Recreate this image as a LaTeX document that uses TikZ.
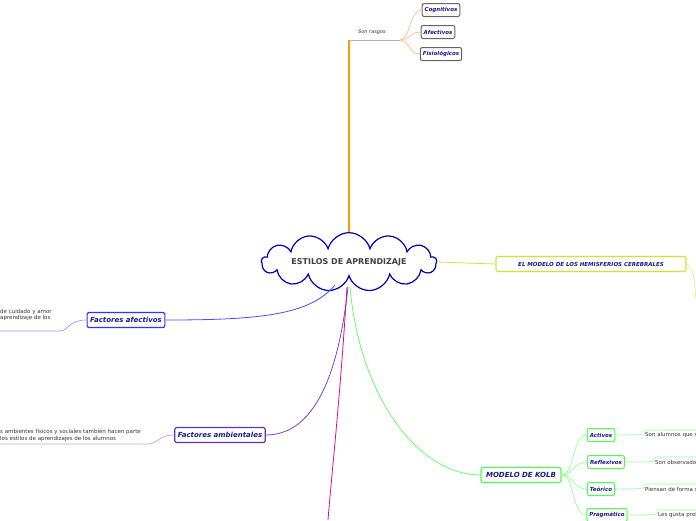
\documentclass[tikz,border=0pt]{standalone}
\usepackage{fontspec}
\setmainfont{DejaVu Sans}
\usetikzlibrary{shapes.symbols}
\definecolor{tblue}{HTML}{1A1A8C}
\definecolor{vio}{HTML}{7B3FE4}
\definecolor{yg}{HTML}{C8E632}
\begin{document}
\begin{tikzpicture}[x=1pt,y=-1pt,
 box/.style={draw=#1,line width=1.2pt,rounded corners=2pt,fill=white,font=\bfseries\itshape\fontsize{7}{8}\selectfont,text=tblue,inner sep=3pt,minimum height=15pt},
 sbox/.style={draw=#1,line width=1pt,rounded corners=2pt,fill=white,font=\bfseries\itshape\fontsize{5.5}{6}\selectfont,text=tblue,inner sep=2.5pt,minimum height=13pt},
 small/.style={font=\fontsize{5.5}{6.5}\selectfont,text=black!80,inner sep=0pt,align=left}]
\useasboundingbox (0,0) rectangle (696,520);
% orange
\node[font=\itshape\fontsize{5}{6}\selectfont,text=black!80] (sr) at (372,32) {Son rasgos};
\coordinate (oj) at (349,40); \coordinate (ok) at (400,40);
\node[sbox=black!60] (cog) at (441,10) {Cognitivos};
\node[sbox=black!60] (afe) at (438,32) {Afectivos};
\node[sbox=black!60] (fis) at (441,54) {Fisiológicos};
\draw[orange!80!yellow,line width=1.2pt] (349,245) -- (oj);
\draw[black!30,line width=0.8pt] (oj) -- (ok);
\foreach \n in {cog,afe,fis}\draw[orange!50,line width=0.7pt] (ok) .. controls (410,40) and ([xshift=-12pt]\n.west) .. (\n.west);
% cloud
\node[cloud,cloud puffs=13,aspect=5.5,draw=blue!70!black,line width=1.2pt,fill=white,minimum width=175pt,minimum height=28pt,inner sep=0pt,font=\bfseries\fontsize{8}{9}\selectfont,text=black!75] (c) at (349,262) {ESTILOS DE APRENDIZAJE};
% hemisferios
\node[box=yg,font=\bfseries\itshape\fontsize{5.5}{6}\selectfont,minimum width=190pt] (hem) at (591,264) {EL MODELO DE LOS HEMISFERIOS CEREBRALES};
\coordinate (hemE) at (696,300);
\draw[yg,line width=0.8pt] (c.east) -- (hem.west);
\draw[yg!60,line width=0.7pt] (hem.east) .. controls (695,270) and (694,280) .. (hemE);
% afectivos
\node[box=blue!80] (fa) at (126,320) {Factores afectivos};
\draw[blue!70,line width=0.8pt] (335,285) .. controls (310,315) and (260,320) .. (fa.east);
\coordinate (fa1) at (60,331); \coordinate (fa0) at (0,331);
\draw[blue!40,line width=0.7pt] (fa.west) .. controls (68,320) and (68,331) .. (fa1) -- (fa0);
\node[small,anchor=north west] (fat) at (0,309) {de cuidado y amor\\ aprendizaje de los};
% ambientales
\node[box=vio!80!black] (famb) at (220,435) {Factores ambientales};
\draw[vio,line width=0.8pt] (348,287) .. controls (340,360) and (320,435) .. (famb.east);
\coordinate (fb1) at (148,444); \coordinate (fb0) at (0,444);
\draw[vio!50,line width=0.7pt] (famb.west) .. controls (158,435) and (158,444) .. (fb1) -- (fb0);
\node[small,anchor=north west] (fbt) at (0,429) {s ambientes físicos y sociales también hacen parte\\ los estilos de aprendizajes de los alumnos};
% magenta
\coordinate (mg) at (328,520);
\draw[magenta!90!violet,line width=0.8pt] (347,287) .. controls (340,400) and (332,470) .. (mg);
% kolb
\node[box=green!70,minimum width=80pt] (kolb) at (521,475) {MODELO DE KOLB};
\draw[green!60,line width=0.8pt] (350,287) .. controls (360,400) and (420,475) .. (kolb.west);
\node[sbox=green!70] (k1) at (601,435) {Activos};
\node[sbox=green!70] (k2) at (606,462) {Reflexivos};
\node[sbox=green!70] (k3) at (601,489) {Teórico};
\node[sbox=green!70] (k4) at (607,515) {Pragmático};
\node[small,anchor=west] (t1) at (645,435) {Son alumnos que s};
\node[small,anchor=west] (t2) at (655,462) {Son observado};
\node[small,anchor=west] (t3) at (645,489) {Piensan de forma s};
\node[small,anchor=west] (t4) at (658,515) {Les gusta prol};
\foreach \k/\t in {k1/t1,k2/t2,k3/t3,k4/t4}{
 \draw[green!40,line width=0.7pt] (kolb.east) .. controls (575,475) and ([xshift=-15pt]\k.west) .. (\k.west);
 \draw[green!40,line width=0.7pt] (\k.east) .. controls (\k.east-|\t.west) .. ([yshift=5pt]\t.west) -- ([yshift=5pt]\t.west -| hemE);
}
\end{tikzpicture}
\end{document}
